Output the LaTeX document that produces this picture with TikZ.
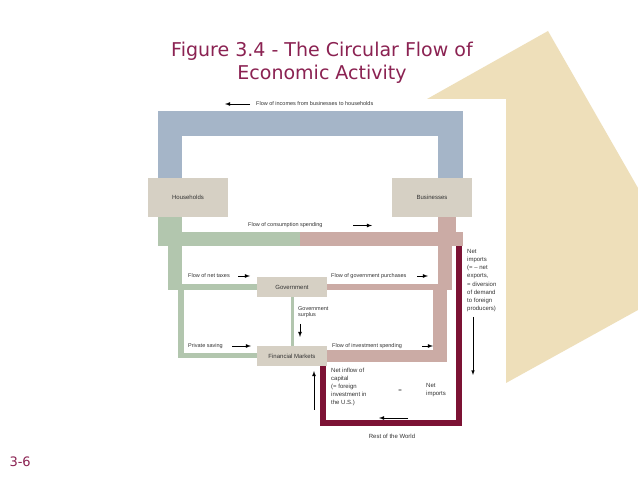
\documentclass[tikz,border=0pt]{standalone}
\usepackage{fontspec}
\setmainfont{Liberation Sans}
\newfontfamily\titlefont{DejaVu Sans}
\begin{document}
\begin{tikzpicture}[x=1pt,y=-1pt,
  lbl/.style={font=\fontsize{5.5}{6.5}\selectfont, text=black!80, inner sep=0pt},
  box/.style={fill=boxc, minimum width=80pt, minimum height=39pt, inner sep=0pt, font=\fontsize{6}{7}\selectfont, text=black!80},
  sbox/.style={fill=boxc, minimum width=70pt, minimum height=20pt, inner sep=0pt, font=\fontsize{6}{7}\selectfont, text=black!80},
  arr/.style={-latex, line width=0.8pt, black}]
\definecolor{bluec}{HTML}{A5B5C8}
\definecolor{boxc}{HTML}{D6D0C4}
\definecolor{greenc}{HTML}{B2C6AE}
\definecolor{pinkc}{HTML}{CBABA5}
\definecolor{darkc}{HTML}{7C1234}
\definecolor{tanc}{HTML}{EEDFBA}
\definecolor{titlec}{HTML}{8B2252}
\useasboundingbox[fill=white] (0,0) rectangle (638,478);
% background arrow
\fill[tanc] (427,99) -- (548,31) -- (638,188) -- (638,310) -- (506,383) -- (506,99) -- cycle;
% title
\node[font=\titlefont\fontsize{19}{23}\selectfont, text=titlec, align=center] (title) at (322,63) {Figure 3.4 - The Circular Flow of\\Economic Activity};
\node[font=\titlefont\fontsize{13}{15}\selectfont, text=titlec, anchor=west] (pg) at (6,462) {3-6};
% blue band
\fill[bluec] (158,111) rectangle (463,136);
\fill[bluec] (158,111) rectangle (182,180);
\fill[bluec] (438,111) rectangle (463,180);
% green / pink consumption
\fill[greenc] (158,215) rectangle (182,246);
\fill[greenc] (158,232) rectangle (300,246);
\fill[pinkc] (300,232) rectangle (463,246);
\fill[pinkc] (438,215) rectangle (456,246);
% taxes & purchases
\fill[greenc] (168,246) rectangle (182,290);
\fill[greenc] (168,284) rectangle (260,290);
\fill[pinkc] (438,246) rectangle (452,290);
\fill[pinkc] (325,284) rectangle (452,290);
% saving & investment
\fill[greenc] (178,290) rectangle (184,358);
\fill[greenc] (178,353) rectangle (260,358);
\fill[greenc] (291,296) rectangle (294,348);
\fill[pinkc] (433,290) rectangle (447,362);
\fill[pinkc] (325,350) rectangle (447,362);
% rest of world
\fill[darkc] (456,246) rectangle (462,426);
\fill[darkc] (320,420) rectangle (462,426);
\fill[darkc] (320,364) rectangle (326,426);
% boxes
\node[box] (hh) at (188,197.5) {Households};
\node[box] (bz) at (432,197.5) {Businesses};
\node[sbox] (gov) at (292,287) {Government};
\node[sbox] (fm) at (292,356) {Financial Markets};
% labels
\node[lbl, anchor=west] (l1) at (256,104) {Flow of incomes from businesses to households};
\coordinate (a1s) at (250,104); \coordinate (a1e) at (225,104);
\draw[arr] (a1s) -- (a1e);
\node[lbl, anchor=west] (l2) at (248,225.5) {Flow of consumption spending};
\coordinate (a2s) at (353,225.5); \coordinate (a2e) at (372,225.5);
\draw[arr] (a2s) -- (a2e);
\node[lbl, anchor=west] (l3) at (188,276) {Flow of net taxes};
\coordinate (a3s) at (238,276); \coordinate (a3e) at (250,276);
\draw[arr] (a3s) -- (a3e);
\node[lbl, anchor=west] (l4) at (331,276) {Flow of government purchases};
\coordinate (a4s) at (417,276); \coordinate (a4e) at (428,276);
\draw[arr] (a4s) -- (a4e);
\node[lbl, anchor=north west, align=left] (l5) at (298,306) {Government\\surplus};
\coordinate (a5s) at (300,324); \coordinate (a5e) at (300,337);
\draw[arr] (a5s) -- (a5e);
\node[lbl, anchor=west] (l6) at (188,346) {Private saving};
\coordinate (a6s) at (232,346); \coordinate (a6e) at (251,346);
\draw[arr] (a6s) -- (a6e);
\node[lbl, anchor=west] (l7) at (332,346) {Flow of investment spending};
\coordinate (a7s) at (422,346); \coordinate (a7e) at (433,346);
\draw[arr] (a7s) -- (a7e);
\node[lbl, anchor=north west, align=left, font=\fontsize{6}{8}\selectfont] (l8) at (331,368) {Net inflow of\\capital\\(= foreign\\investment in\\the U.S.)};
\node[lbl, font=\fontsize{6}{7}\selectfont] (eq) at (400,391) {=};
\node[lbl, anchor=north west, align=left, font=\fontsize{6}{8}\selectfont] (l9) at (426,383) {Net\\imports};
\coordinate (a8s) at (314,410); \coordinate (a8e) at (314,371);
\draw[arr] (a8s) -- (a8e);
\coordinate (a9s) at (408,418); \coordinate (a9e) at (379,418);
\draw[arr] (a9s) -- (a9e);
\node[lbl, font=\fontsize{6}{7}\selectfont] (rw) at (392,436) {Rest of the World};
\node[lbl, anchor=north west, align=left, font=\fontsize{6}{8.2}\selectfont] (l10) at (467,249) {Net\\imports\\(= -- net\\exports,\\= diversion\\of demand\\to foreign\\producers)};
\coordinate (a10s) at (473,317); \coordinate (a10e) at (473,375);
\draw[arr, line width=0.6pt] (a10s) -- (a10e);
\end{tikzpicture}
\end{document}
